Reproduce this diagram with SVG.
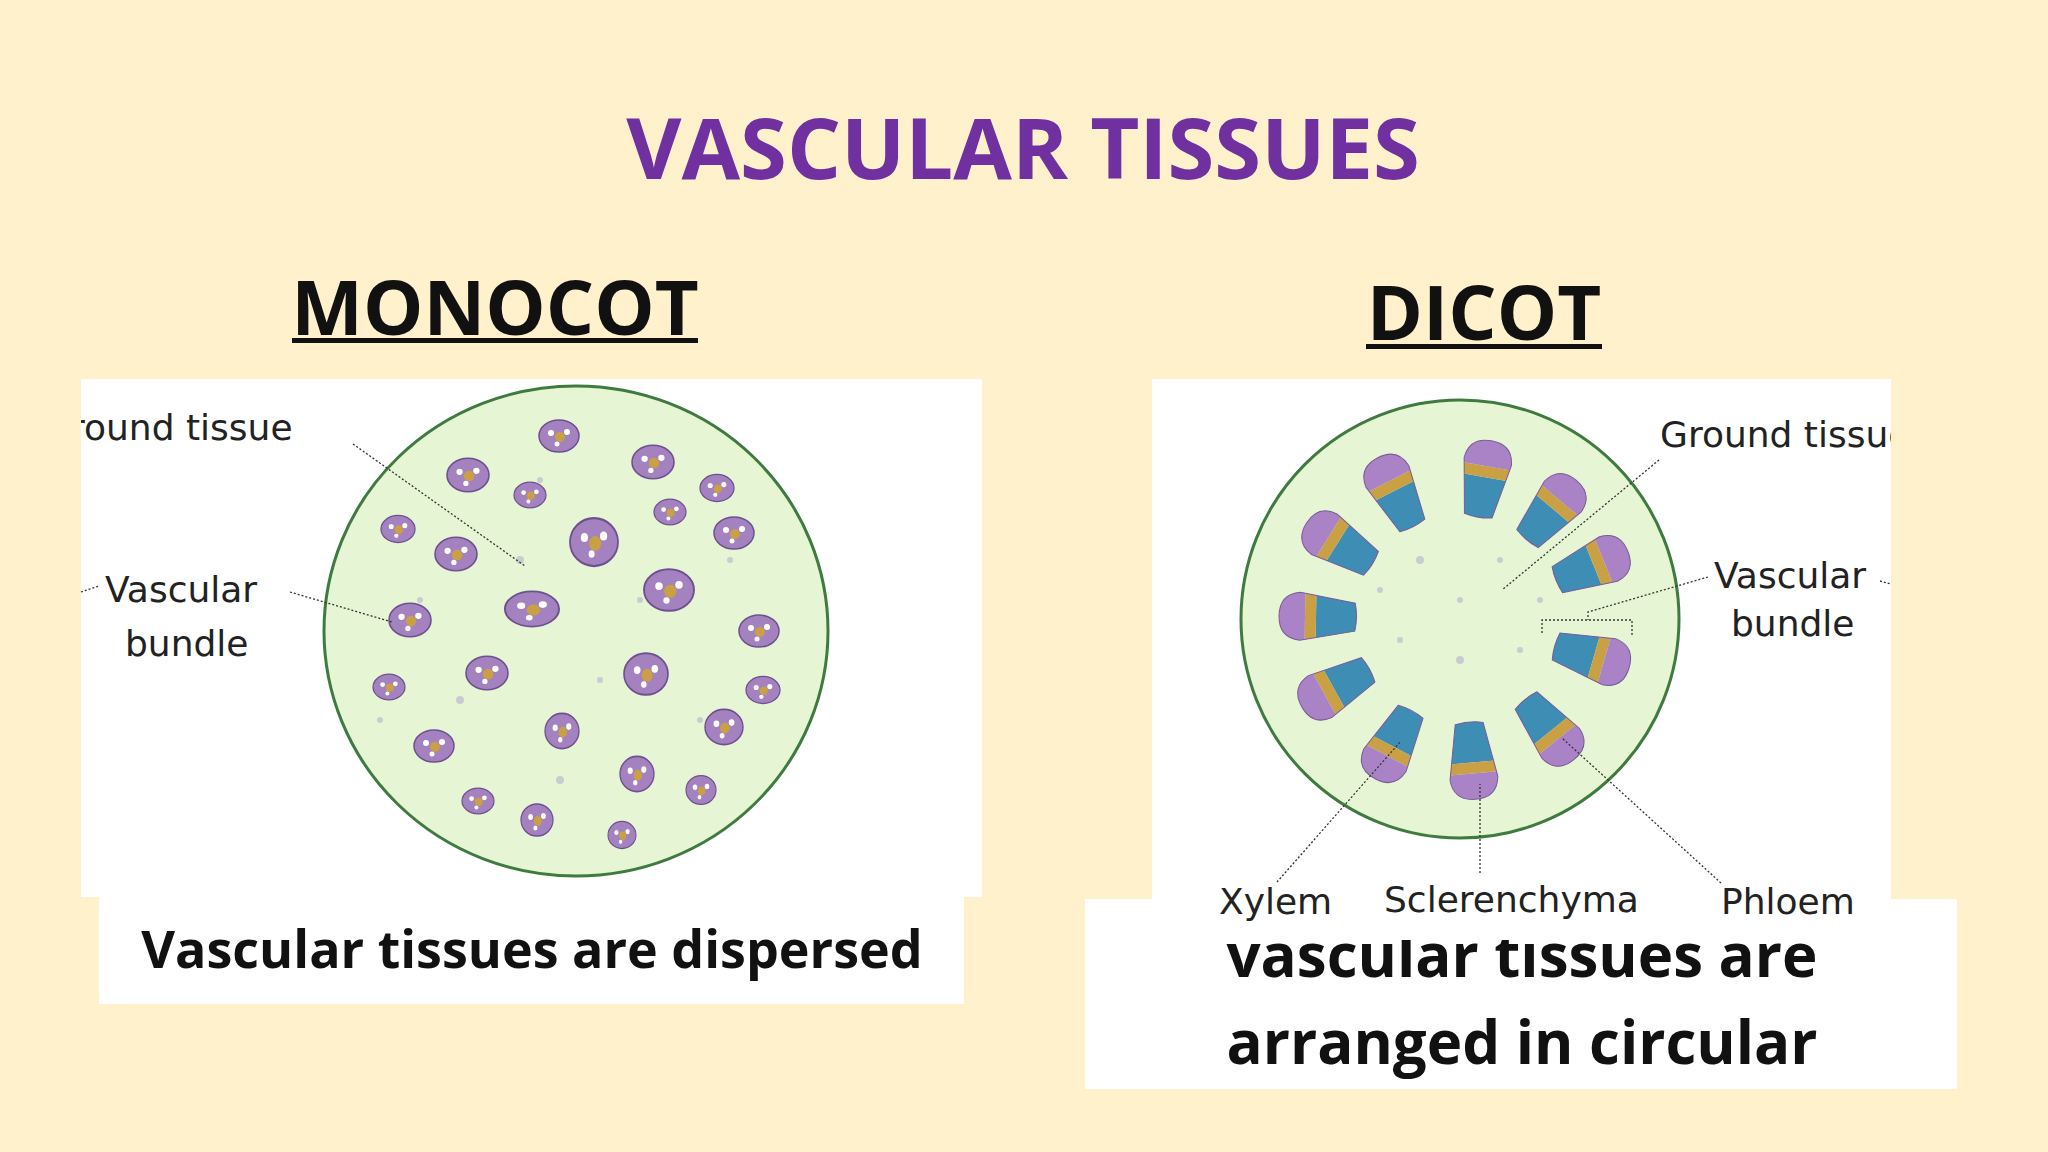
<svg xmlns="http://www.w3.org/2000/svg" width="2048" height="1152" viewBox="0 0 2048 1152">
<style>
.h{font-family:"Open Sans","Noto Sans",sans-serif;font-weight:bold}
.l{font-family:"DejaVu Sans","Liberation Sans",sans-serif;font-size:36px;fill:#222}
.ld{stroke:#333;stroke-width:1.3;fill:none;stroke-dasharray:2 2}
.cap{font-family:"Open Sans","Noto Sans",sans-serif;font-weight:bold;fill:#111;text-anchor:middle}
</style>
<defs>
<clipPath id="bc"><path d="M-37,-14 Q-40,0 -37,14 L18,24 Q39,22 39,0 Q39,-22 18,-24 Z"/></clipPath>
<g id="bundle">
<g clip-path="url(#bc)">
<rect x="-42" y="-26" width="44" height="52" fill="#3d8db5"/>
<rect x="2" y="-26" width="11" height="52" fill="#c9a043"/>
<rect x="13" y="-26" width="28" height="52" fill="#a983c6"/>
</g>
<path d="M-37,-14 Q-40,0 -37,14 L18,24 Q39,22 39,0 Q39,-22 18,-24 Z" fill="none" stroke="#7a5a9a" stroke-width="1"/>
</g>
<g id="mb">
<ellipse rx="20" ry="16" fill="#a482bf" stroke="#6e5090" stroke-width="1.5"/>
<circle cx="1" cy="1" r="5" fill="#c9a043"/>
<circle cx="-8" cy="-3" r="3" fill="#fff"/>
<circle cx="8" cy="-4" r="3" fill="#fff"/>
<circle cx="-2" cy="8" r="2.5" fill="#fff"/>
</g>
<clipPath id="dc"><rect x="1152" y="379" width="739" height="561"/></clipPath>
<clipPath id="mc"><rect x="81" y="379" width="901" height="518"/></clipPath>
</defs>
<rect width="2048" height="1152" fill="#fef1cc"/>
<text class="h" x="1023" y="179" font-size="85" fill="#7030a0" text-anchor="middle">VASCULAR TISSUES</text>
<text class="h" x="495" y="335" font-size="76" fill="#111" text-anchor="middle">MONOCOT</text>
<rect x="292" y="338" width="406" height="5" fill="#111"/>
<text class="h" x="1484" y="340" font-size="76" fill="#111" text-anchor="middle">DICOT</text>
<rect x="1366" y="344" width="236" height="5" fill="#111"/>

<g id="monocot">
<rect x="81" y="379" width="901" height="518" fill="#fff"/>
<ellipse cx="576" cy="631" rx="252" ry="245" fill="#e6f5d4" stroke="#3f7a3f" stroke-width="3"/>
<g fill="#c8ccd0">
<circle cx="520" cy="560" r="4"/><circle cx="640" cy="600" r="3"/><circle cx="460" cy="700" r="4"/><circle cx="700" cy="720" r="3"/><circle cx="560" cy="780" r="4"/><circle cx="420" cy="600" r="3"/><circle cx="600" cy="680" r="3"/><circle cx="730" cy="560" r="3"/><circle cx="380" cy="720" r="3"/><circle cx="540" cy="480" r="3"/>
</g>
<use href="#mb" transform="translate(559,436)"/>
<use href="#mb" transform="translate(468,475) scale(1.05)"/>
<use href="#mb" transform="translate(530,495) scale(0.8)"/>
<use href="#mb" transform="translate(653,462) scale(1.05)"/>
<use href="#mb" transform="translate(717,488) scale(0.85)"/>
<use href="#mb" transform="translate(398,529) scale(0.85)"/>
<use href="#mb" transform="translate(456,554) scale(1.05)"/>
<use href="#mb" transform="translate(594,542) scale(1.2,1.5)"/>
<use href="#mb" transform="translate(670,512) scale(0.8)"/>
<use href="#mb" transform="translate(734,533) scale(1)"/>
<use href="#mb" transform="translate(532,609) scale(1.35,1.1)"/>
<use href="#mb" transform="translate(669,590) scale(1.25,1.3)"/>
<use href="#mb" transform="translate(410,620) scale(1.05)"/>
<use href="#mb" transform="translate(759,631) scale(1)"/>
<use href="#mb" transform="translate(487,673) scale(1.05)"/>
<use href="#mb" transform="translate(646,674) scale(1.1,1.3)"/>
<use href="#mb" transform="translate(389,687) scale(0.8)"/>
<use href="#mb" transform="translate(763,690) scale(0.85)"/>
<use href="#mb" transform="translate(562,731) scale(0.85,1.1)"/>
<use href="#mb" transform="translate(724,727) scale(0.95,1.1)"/>
<use href="#mb" transform="translate(434,746) scale(1)"/>
<use href="#mb" transform="translate(637,774) scale(0.85,1.1)"/>
<use href="#mb" transform="translate(701,790) scale(0.75,0.9)"/>
<use href="#mb" transform="translate(478,801) scale(0.8)"/>
<use href="#mb" transform="translate(537,820) scale(0.8,1)"/>
<use href="#mb" transform="translate(622,835) scale(0.7,0.85)"/>
<g clip-path="url(#mc)">
<text class="l" x="70" y="440">round tissue</text>
</g>
<text class="l" x="105" y="602">Vascular</text>
<text class="l" x="125" y="656">bundle</text>
<path class="ld" d="M353,444 L525,566"/>
<path class="ld" d="M290,592 L392,622"/>
<path class="ld" d="M81,592 L99,586"/>
</g>

<g id="monocot-caption">
<rect x="99" y="897" width="865" height="107" fill="#fff"/>
<text class="cap" x="532" y="968" font-size="52">Vascular tissues are dispersed</text>
</g>

<g id="dicot-caption">
<rect x="1085" y="899" width="872" height="190" fill="#fff"/>
<text class="cap" x="1522" y="977" font-size="60">vascular tissues are</text>
<text class="cap" x="1522" y="1064" font-size="60">arranged in circular</text>
</g>

<g id="dicot">
<rect x="1152" y="379" width="739" height="561" fill="#fff"/>
<circle cx="1460" cy="619" r="219" fill="#e6f5d4" stroke="#3f7a3f" stroke-width="3"/>
<g fill="#c8ccd0">
<circle cx="1420" cy="560" r="4"/><circle cx="1500" cy="560" r="3"/><circle cx="1460" cy="660" r="4"/><circle cx="1400" cy="640" r="3"/><circle cx="1520" cy="650" r="3"/><circle cx="1460" cy="600" r="3"/><circle cx="1380" cy="590" r="3"/><circle cx="1540" cy="600" r="3"/>
</g>
<g transform="translate(1460,619)">
<use href="#bundle" transform="rotate(-117) translate(142,0)"/>
<use href="#bundle" transform="rotate(-80) translate(142,0)"/>
<use href="#bundle" transform="rotate(-50) translate(142,0)"/>
<use href="#bundle" transform="rotate(-22) translate(142,0)"/>
<use href="#bundle" transform="rotate(16) translate(137,0)"/>
<use href="#bundle" transform="rotate(51) translate(142,0)"/>
<use href="#bundle" transform="rotate(85) translate(142,0)"/>
<use href="#bundle" transform="rotate(118) translate(142,0)"/>
<use href="#bundle" transform="rotate(151) translate(142,0)"/>
<use href="#bundle" transform="rotate(181) translate(142,0)"/>
<use href="#bundle" transform="rotate(212) translate(142,0)"/>
</g>
<g clip-path="url(#dc)">
<text class="l" x="1660" y="447">Ground tissue</text>
<path class="ld" d="M1880,581 L1891,584"/>
</g>
<text class="l" x="1714" y="588">Vascular</text>
<text class="l" x="1731" y="636">bundle</text>
<text class="l" x="1219" y="914">Xylem</text>
<text class="l" x="1384" y="912">Sclerenchyma</text>
<text class="l" x="1721" y="914">Phloem</text>
<path class="ld" d="M1659,460 L1502,590"/>
<path class="ld" d="M1708,577 L1588,612 L1588,620"/>
<path class="ld" d="M1542,633 L1542,620 L1632,620 L1632,635"/>
<path class="ld" d="M1277,882 L1401,741"/>
<path class="ld" d="M1480,873 L1480,784"/>
<path class="ld" d="M1721,883 L1562,738"/>
</g>
</svg>
